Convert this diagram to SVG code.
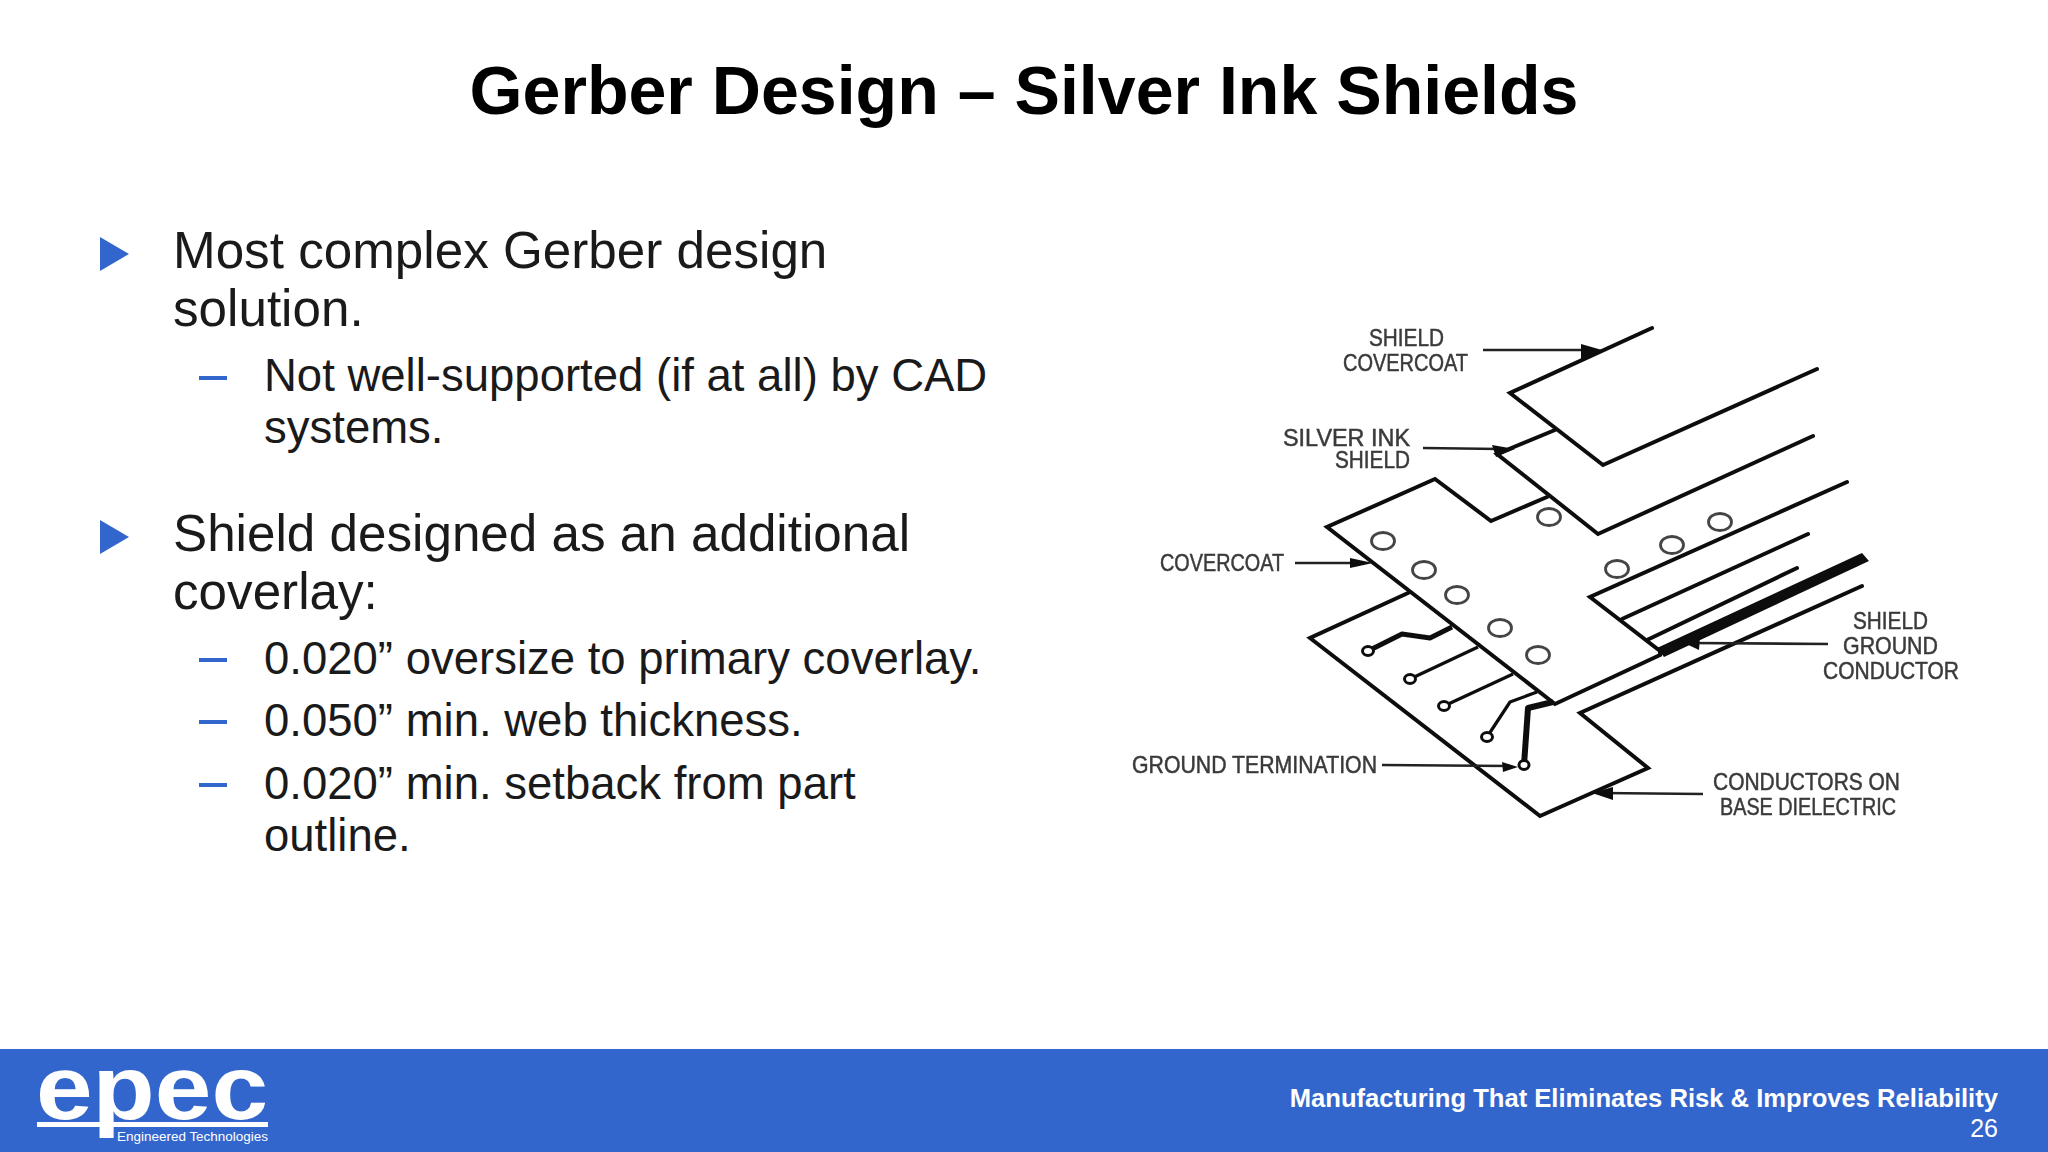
<svg xmlns="http://www.w3.org/2000/svg" width="2048" height="1152" viewBox="0 0 2048 1152">
<style>
text{font-family:"Liberation Sans",Arial,sans-serif}
.title{font-size:68.1px;font-weight:700;fill:#000;text-anchor:middle}
.b1{font-size:51.2px;fill:#1a1a1a}
.b2{font-size:45.5px;fill:#1a1a1a}
.dash{fill:#3366cc}
.tri{fill:#3366cc}
.lab{font-size:24px;fill:#3a3a3a;stroke:#3a3a3a;stroke-width:.5}
.ln{fill:none;stroke:#111;stroke-width:4;stroke-linejoin:miter;stroke-linecap:round}
.tr{fill:none;stroke:#111;stroke-width:3.2;stroke-linejoin:round}
.ld{fill:none;stroke:#222;stroke-width:2.6}
.hole{fill:#fff;stroke:#444;stroke-width:2.8}
.pad{fill:#fff;stroke:#111;stroke-width:3}
.hd{fill:#111}
.foot{fill:#fff}
</style>
<defs><filter id="soft" x="-5%" y="-5%" width="110%" height="110%"><feGaussianBlur stdDeviation="0.6"/></filter></defs>
<rect width="2048" height="1152" fill="#fff"/>
<text class="title" x="1024" y="114">Gerber Design – Silver Ink Shields</text>
<g id="bullets">
<polygon class="tri" points="100,237 129,254 100,271"/>
<polygon class="tri" points="100,520 129,537 100,554"/>
<text class="b1" x="173" y="268">Most complex Gerber design</text>
<text class="b1" x="173" y="326">solution.</text>
<rect class="dash" x="199" y="376" width="28" height="4"/>
<text class="b2" x="264" y="391">Not well-supported (if at all) by CAD</text>
<text class="b2" x="264" y="443">systems.</text>
<text class="b1" x="173" y="551">Shield designed as an additional</text>
<text class="b1" x="173" y="609">coverlay:</text>
<rect class="dash" x="199" y="658" width="28" height="4"/>
<text class="b2" x="264" y="674">0.020” oversize to primary coverlay.</text>
<rect class="dash" x="199" y="720" width="28" height="4"/>
<text class="b2" x="264" y="736">0.050” min. web thickness.</text>
<rect class="dash" x="199" y="783" width="28" height="4"/>
<text class="b2" x="264" y="799">0.020” min. setback from part</text>
<text class="b2" x="264" y="851">outline.</text>
</g>
<g id="figure" filter="url(#soft)">
<g id="layers">
<polyline id="shield-covercoat" class="ln" points="1652,328 1510,393 1603,465 1817,369"/>
<polyline id="silver-ink-shield" class="ln" points="1555,430 1497,454 1598,534 1813,436"/>
<polyline id="covercoat" class="ln" points="1547,497 1491,521 1435,479 1327,527 1555,704 1660,655 1660,651 1590,597 1847,482"/>
<polyline id="base" class="ln" points="1408,593 1310,638 1540,816 1648,768 1580,713 1862,586"/>
<polyline class="ln" points="1622,619 1808,534"/>
<polyline class="ln" points="1647,640 1797,568"/>
<polygon id="shield-ground" class="hd" points="1657,648 1862,553 1869,561 1664,657"/>
</g>
<g id="holes">
<ellipse class="hole" cx="1383" cy="541" rx="11.5" ry="8.5"/>
<ellipse class="hole" cx="1424" cy="570" rx="11.5" ry="8.5"/>
<ellipse class="hole" cx="1457" cy="595" rx="11.5" ry="8.5"/>
<ellipse class="hole" cx="1500" cy="628" rx="11.5" ry="8.5"/>
<ellipse class="hole" cx="1538" cy="655" rx="11.5" ry="8.5"/>
<ellipse class="hole" cx="1549" cy="517" rx="11.5" ry="8.5"/>
<ellipse class="hole" cx="1617" cy="569" rx="11.5" ry="8.5"/>
<ellipse class="hole" cx="1672" cy="545" rx="11.5" ry="8.5"/>
<ellipse class="hole" cx="1720" cy="522" rx="11.5" ry="8.5"/>
</g>
<g id="traces">
<polyline class="tr" style="stroke-width:5" points="1368,651 1402,634 1430,638 1452,627"/>
<polyline class="tr" points="1410,679 1478,647"/>
<polyline class="tr" points="1444,706 1513,674"/>
<polyline class="tr" points="1487,737 1510,702 1537,692"/>
<polyline class="tr" style="stroke-width:6" points="1524,765 1528,708 1553,702"/>
<ellipse class="pad" cx="1368" cy="651" rx="5.5" ry="4.5"/>
<ellipse class="pad" cx="1410" cy="679" rx="5.5" ry="4.5"/>
<ellipse class="pad" cx="1444" cy="706" rx="5.5" ry="4.5"/>
<ellipse class="pad" cx="1487" cy="737" rx="5.5" ry="4.5"/>
<ellipse class="pad" cx="1524" cy="765" rx="5" ry="4.5"/>
</g>
<g id="connectors">
<line class="ld" x1="1483" y1="350" x2="1590" y2="350"/>
<polygon class="hd" points="1581,344 1602,350 1581,359"/>
<line class="ld" x1="1423" y1="448" x2="1500" y2="449"/>
<polygon class="hd" points="1492,445 1515,449 1496,457"/>
<line class="ld" x1="1295" y1="563" x2="1360" y2="563"/>
<polygon class="hd" points="1350,558 1373,563 1350,568"/>
<line class="ld" x1="1382" y1="765" x2="1510" y2="766"/>
<polygon class="hd" points="1502,762 1518,767 1503,772"/>
<line class="ld" x1="1828" y1="644" x2="1690" y2="643"/>
<polygon class="hd" points="1682,642 1700,636 1699,650"/>
<line class="ld" x1="1703" y1="794" x2="1600" y2="793"/>
<polygon class="hd" points="1592,793 1613,787 1613,800"/>
</g>
<g id="labels">
<text class="lab" x="1369" y="346" textLength="75" lengthAdjust="spacingAndGlyphs">SHIELD</text>
<text class="lab" x="1343" y="371" textLength="125" lengthAdjust="spacingAndGlyphs">COVERCOAT</text>
<text class="lab" x="1283" y="446" textLength="127" lengthAdjust="spacingAndGlyphs">SILVER INK</text>
<text class="lab" x="1335" y="468" textLength="75" lengthAdjust="spacingAndGlyphs">SHIELD</text>
<text class="lab" x="1160" y="571" textLength="124" lengthAdjust="spacingAndGlyphs">COVERCOAT</text>
<text class="lab" x="1132" y="773" textLength="245" lengthAdjust="spacingAndGlyphs">GROUND TERMINATION</text>
<text class="lab" x="1853" y="629" textLength="75" lengthAdjust="spacingAndGlyphs">SHIELD</text>
<text class="lab" x="1843" y="654" textLength="95" lengthAdjust="spacingAndGlyphs">GROUND</text>
<text class="lab" x="1823" y="679" textLength="136" lengthAdjust="spacingAndGlyphs">CONDUCTOR</text>
<text class="lab" x="1713" y="790" textLength="187" lengthAdjust="spacingAndGlyphs">CONDUCTORS ON</text>
<text class="lab" x="1720" y="815" textLength="176" lengthAdjust="spacingAndGlyphs">BASE DIELECTRIC</text>
</g>
</g>
<g id="footer">
<rect x="0" y="1049" width="2048" height="103" fill="#3366cc"/>
<g id="logo">
<rect class="foot" x="37" y="1122" width="231" height="5"/>
<text class="foot" x="36" y="1119" font-size="90" font-weight="700" textLength="232" lengthAdjust="spacingAndGlyphs">epec</text>
<text class="foot" x="117" y="1141" font-size="12" textLength="151" lengthAdjust="spacingAndGlyphs">Engineered Technologies</text>
</g>
<text class="foot" x="1998" y="1107" font-size="25.6" font-weight="700" text-anchor="end">Manufacturing That Eliminates Risk &amp; Improves Reliability</text>
<text class="foot" x="1998" y="1137" font-size="25" text-anchor="end">26</text>
</g>
</svg>
